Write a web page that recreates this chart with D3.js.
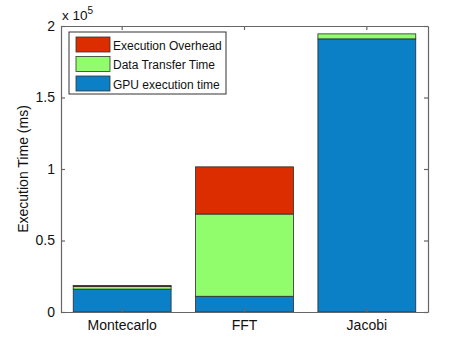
<html>
<head>
<title>execution time stacked bars</title>
</head>
<style>
  body { margin: 0; background: #fff; }
  svg { font-family: "Liberation Sans", Arial, sans-serif; }
  .tick text { font-size: 14px; fill: #111; }
</style>
<body>
  <div id="chart"></div>
</body>
<script src="https://cdn.jsdelivr.net/npm/d3@7"></script>
<script>
  let categories = ["Montecarlo", "FFT", "Jacobi"];
  let series = ["GPU execution time", "Data Transfer Time", "Execution Overhead"];
  let gpuTime = [16000, 11000, 191000];
  let transferTime = [1800, 57500, 3500];
  let overheadTime = [800, 33000, 0];
  let yTicks = [0, 0.5e5, 1e5, 1.5e5, 2e5];
  let colors = ["#0b80c6", "#92fd6c", "#dc2d00"];

  let width = 474, height = 351;
  let margin = { left: 61, right: 46, top: 26, bottom: 39 };

  let svg = d3.select("#chart").append("svg")
    .attr("width", width)
    .attr("height", height);

  let x = d3.scaleBand()
    .domain(categories)
    .range([margin.left, width - margin.right])
    .paddingInner(0.2)
    .paddingOuter(0.1);

  let y = d3.scaleLinear()
    .domain([0, 2e5])
    .range([height - margin.bottom, margin.top]);

  let rows = categories.map((c, i) => ({
    cat: c,
    "GPU execution time": gpuTime[i],
    "Data Transfer Time": transferTime[i],
    "Execution Overhead": overheadTime[i]
  }));
  let stacked = d3.stack().keys(series)(rows);

  // bars
  svg.selectAll("g.layer")
    .data(stacked)
    .join("g")
    .attr("class", "layer")
    .attr("fill", (d, i) => colors[i])
    .selectAll("rect")
    .data(d => d.filter(v => v[1] > v[0]))
    .join("rect")
    .attr("x", d => x(d.data.cat))
    .attr("width", x.bandwidth())
    .attr("y", d => y(d[1]))
    .attr("height", d => y(d[0]) - y(d[1]))
    .attr("stroke", "#2b2b2b")
    .attr("stroke-width", 0.8);

  // axes (matlab style, ticks inside, box on)
  let axisColor = "#666";
  let axLeft = svg.append("g")
    .attr("transform", `translate(${margin.left},0)`)
    .call(d3.axisLeft(y).tickValues(yTicks).tickFormat(d => d / 1e5).tickSizeInner(-4).tickSizeOuter(0).tickPadding(6));
  let axRight = svg.append("g")
    .attr("transform", `translate(${width - margin.right},0)`)
    .call(d3.axisRight(y).tickValues(yTicks).tickFormat("").tickSizeInner(-4).tickSizeOuter(0));
  let axBottom = svg.append("g")
    .attr("transform", `translate(0,${height - margin.bottom})`)
    .call(d3.axisBottom(x).tickSizeInner(-4).tickSizeOuter(0).tickPadding(8));
  let axTop = svg.append("g")
    .attr("transform", `translate(0,${margin.top})`)
    .call(d3.axisTop(x).tickFormat("").tickSizeInner(-4).tickSizeOuter(0));

  [axLeft, axRight, axBottom, axTop].forEach(g => {
    g.selectAll("path, line").attr("stroke", axisColor).attr("stroke-width", 1.2);
  });

  // exponent label
  let ex = svg.append("text")
    .attr("x", margin.left + 1)
    .attr("y", margin.top - 6)
    .attr("font-size", 13.5)
    .attr("fill", "#111");
  ex.append("tspan").text("x 10");
  ex.append("tspan").attr("font-size", 10).attr("dy", -6).text("5");

  // y label
  svg.append("text")
    .attr("transform", `translate(28,${(margin.top + height - margin.bottom) / 2}) rotate(-90)`)
    .attr("text-anchor", "middle")
    .attr("font-size", 14)
    .attr("fill", "#111")
    .text("Execution Time (ms)");

  // legend
  let legendItems = series.slice().reverse();
  let legendColors = colors.slice().reverse();
  let lg = svg.append("g").attr("transform", "translate(69,32)");
  lg.append("rect")
    .attr("width", 157).attr("height", 62)
    .attr("fill", "#fff")
    .attr("stroke", "#333").attr("stroke-width", 1);
  legendItems.forEach((s, i) => {
    lg.append("rect")
      .attr("x", 7).attr("y", 5 + i * 19.5)
      .attr("width", 34).attr("height", 15)
      .attr("fill", legendColors[i])
      .attr("stroke", "#333").attr("stroke-width", 0.8);
    lg.append("text")
      .attr("x", 44).attr("y", 17.5 + i * 19.5)
      .attr("font-size", 12)
      .attr("fill", "#111")
      .text(s);
  });
</script>
</html>
